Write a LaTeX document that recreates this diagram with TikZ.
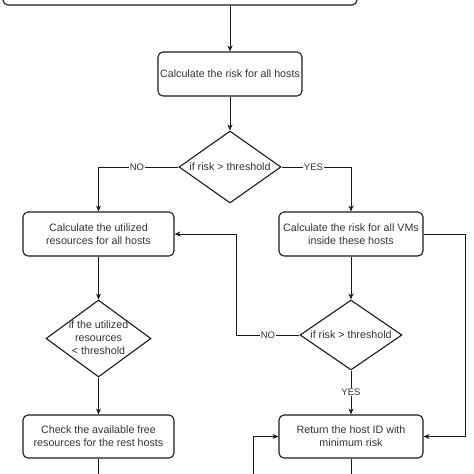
\documentclass[tikz,border=0pt]{standalone}
\usepackage{fontspec}
\setmainfont{Liberation Sans}
\usetikzlibrary{positioning,arrows.meta,shapes.geometric}
\definecolor{ink}{HTML}{1A1A1A}
\definecolor{inktwo}{HTML}{333333}

\begin{document}
\begin{tikzpicture}[
      x=1pt, y=1pt,
      stepbox/.style={draw=ink, line width=1.1pt, fill=white,
                      rounded corners=5pt, minimum width=144pt,
                      minimum height=44pt, align=center, inner sep=2pt,
                      text=inktwo, font=\fontsize{10.7}{13}\selectfont},
      choice/.style={diamond, draw=ink, line width=1.1pt, fill=white,
                     minimum width=102pt, minimum height=72pt, inner sep=0pt,
                     text=inktwo, font=\fontsize{10.7}{13}\selectfont},
      link/.style={-{Stealth[length=6pt, width=5pt]}, line width=0.8pt, color=ink},
      tag/.style={fill=white, inner sep=1pt, text=inktwo,
                  font=\fontsize{9.5}{11}\selectfont},
    ]
      \useasboundingbox (0,0) rectangle (474,-474);

      \node[stepbox, minimum width=354pt, minimum height=40pt] (start) at (180,15) {};

      \node[stepbox] (risk) at (230,-74) {Calculate the risk for all hosts};
      \node[choice] (riskcheck) at (230,-167) {\makebox[0pt]{if risk > threshold}};

      \node[stepbox, minimum width=151pt] (util) at (98.5,-234) {Calculate the utilized\\resources for all hosts};
      \node[stepbox] (vms) at (351,-234) {Calculate the risk for all VMs\\inside these hosts};

      \node[choice, minimum width=105pt, minimum height=77pt] (utilcheck) at (98.5,-338.5) {%
        \makebox[0pt]{\begin{tabular}{@{}c@{}}if the utilized\\resources\\< threshold\end{tabular}}};
      \node[choice, minimum height=70pt] (vmcheck) at (351,-335) {\makebox[0pt]{if risk > threshold}};

      \node[stepbox, minimum width=151pt, minimum height=43pt] (free) at (98.5,-436.5) {Check the available free\\resources for the rest hosts};
      \node[stepbox, minimum height=43pt] (hostid) at (351,-436.5) {Return the host ID with\\minimum risk};

      \coordinate (outleft) at (98.5,-474);
      \coordinate (outright) at (351,-474);
      \coordinate (inback) at (253,-474);

      \draw[link] (start.south -| risk.north) -- (risk.north);
      \draw[link] (risk) -- (riskcheck);
      \draw[link] (riskcheck.west) -| node[tag, pos=0.26] {NO} (util.north);
      \draw[link] (riskcheck.east) -| node[tag, pos=0.23] {YES} (vms.north);

      \draw[link] (util) -- (utilcheck);
      \draw[link] (utilcheck) -- (free);
      \draw[link] (vms) -- (vmcheck);
      \draw[link] (vmcheck) -- node[tag, pos=0.49] {YES} (hostid);
      \draw[link] (vmcheck.west) -- node[tag] {NO} ++(-63,0) |- (util.east);
      \draw[link] (vms.east) -- ++(42,0) |- (hostid.east);

      \draw[line width=0.8pt, color=ink] (free) -- (outleft);
      \draw[line width=0.8pt, color=ink] (hostid) -- (outright);
      \draw[link] (inback) |- (hostid.west);

    \end{tikzpicture}
\end{document}
